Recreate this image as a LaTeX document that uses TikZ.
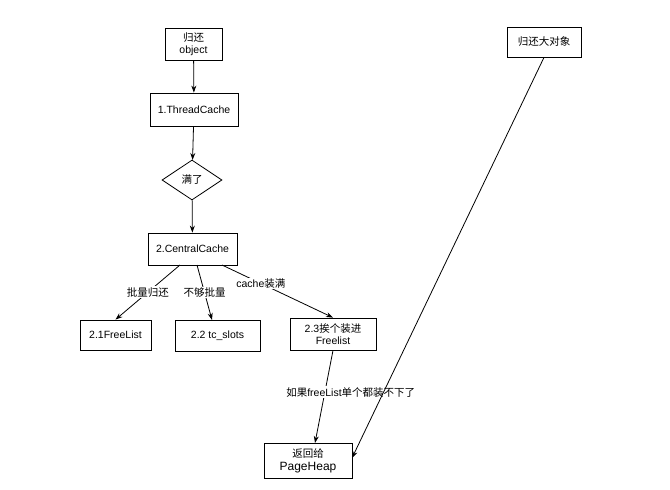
\documentclass[tikz,border=0pt]{standalone}
\usepackage{fontspec}
\setmainfont{Liberation Sans}
\newfontfamily\cjk{Noto Sans CJK SC}
\usetikzlibrary{shapes.geometric,arrows.meta}
\begin{document}
\begin{tikzpicture}[x=1pt,y=-1pt,
  box/.style={draw,thick,fill=white,align=center,inner sep=1pt,font=\fontsize{10.5}{12}\selectfont},
  arr/.style={draw,thick,-{Stealth[length=7pt,width=5pt]}},
  lbl/.style={fill=white,inner sep=1pt,font=\fontsize{10.5}{12}\selectfont}]
\useasboundingbox[fill=white] (0,0) rectangle (670,490);
\node[box,minimum width=57,minimum height=32] (obj) at (193.5,44) {{\cjk 归还}\\object};
\node[box,minimum width=88,minimum height=33] (tc) at (194,109.5) {1.ThreadCache};
\node[box,diamond,aspect=1.5,minimum width=60,minimum height=40,inner sep=0pt] (full) at (192,180) {\cjk 满了};
\node[box,minimum width=89,minimum height=32] (cc) at (192.5,249) {2.CentralCache};
\node[box,minimum width=71,minimum height=30] (fl) at (115.5,335) {2.1FreeList};
\node[box,minimum width=85,minimum height=31] (ts) at (217.5,335.5) {2.2 tc\_slots};
\node[box,minimum width=86,minimum height=32] (ld) at (333,334) {2.3{\cjk 挨个装进}\\Freelist};
\node[box,minimum width=88,minimum height=35,font=\fontsize{12}{13}\selectfont] (ph) at (308,460.5) {{\cjk\fontsize{10.5}{12}\selectfont 返回给}\\PageHeap};
\node[box,minimum width=74,minimum height=30] (big) at (544,42) {\cjk 归还大对象};
\coordinate (phr) at (352,458);
\draw[arr] (obj) -- (tc);
\draw[arr] (tc) -- (full);
\draw[arr] (full) -- (cc);
\draw[arr] (180,265) -- node[lbl,pos=0.5]{\cjk 批量归还} (fl.north);
\draw[arr] (197,265) -- node[lbl,pos=0.5]{\cjk 不够批量} (212,320);
\draw[arr] (222,265) -- node[lbl,pos=0.35]{cache{\cjk 装满}} (ld.north);
\draw[arr] (ld.south) -- node[lbl,pos=0.45,right=-40pt]{{\cjk 如果}freeList{\cjk 单个都装不下了}} (315,443);
\draw[arr] (big.south) -- (phr);
\end{tikzpicture}
\end{document}
